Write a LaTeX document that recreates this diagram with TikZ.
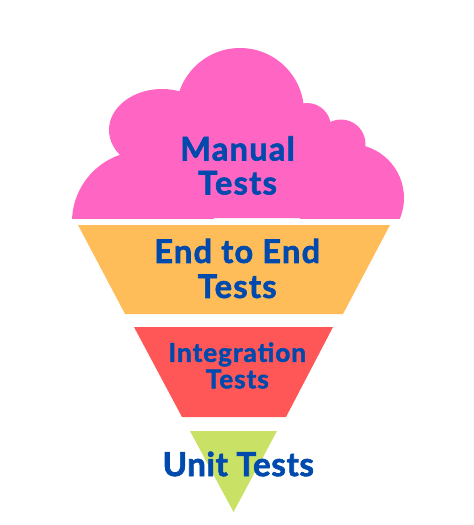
\documentclass[tikz,border=0pt]{standalone}
\usepackage{fontspec}
\setmainfont{Lato}[BoldFeatures={FakeBold=2}]
\definecolor{cloudpink}{HTML}{FF66C4}
\definecolor{layerorange}{HTML}{FFBD59}
\definecolor{layerred}{HTML}{FF5757}
\definecolor{layergreen}{HTML}{C9E265}
\definecolor{txtblue}{HTML}{004AAD}
\begin{document}
\begin{tikzpicture}[x=1pt,y=-1pt,
  lbl/.style={text=txtblue, align=center, inner sep=0pt}]
\useasboundingbox (0,0) rectangle (474,525);
% cloud (ice cream scoop)
\begin{scope}
  \clip (0,0) rectangle (474,218);
  \fill[cloudpink] (143,222) circle[radius=71];
  \fill[cloudpink] (162,130) ellipse[x radius=53, y radius=41];
  \fill[cloudpink] (240,112) circle[radius=64];
  \fill[cloudpink] (307,127) circle[radius=24];
  \fill[cloudpink] (341,144) circle[radius=24.5];
  \fill[cloudpink] (350,198) circle[radius=54];
  \fill[cloudpink] (100,218) -- (162,130) -- (240,112) -- (307,127) -- (341,144) -- (350,198) -- (380,218) -- cycle;
\end{scope}
% cone layers
\fill[layerorange] (78,225) -- (390,225) -- (343,314) -- (125,314) -- cycle;
\fill[layerred] (134,327) -- (333,327) -- (286,417) -- (182,417) -- cycle;
\fill[layergreen] (190,431) -- (277,431) -- (233.5,512) -- cycle;
% labels
\node[lbl, font={\fontsize{32.5}{34}\selectfont\bfseries\addfontfeatures{LetterSpace=4}}] (manual) at (237.5,165.5) {Manual\\Tests};
\node[lbl, font={\fontsize{32.5}{35}\selectfont\bfseries\addfontfeatures{LetterSpace=4}}] (e2e) at (237.2,268.5) {End to End\\Tests};
\node[lbl, font={\fontsize{26}{26.5}\selectfont\bfseries\addfontfeatures{LetterSpace=4}}] (integ) at (237.3,365.5) {Integration\\Tests};
\node[lbl, font={\fontsize{33}{36}\selectfont\bfseries\addfontfeatures{LetterSpace=2}}] (unit) at (238.3,464) {Unit Tests};
\end{tikzpicture}
\end{document}
